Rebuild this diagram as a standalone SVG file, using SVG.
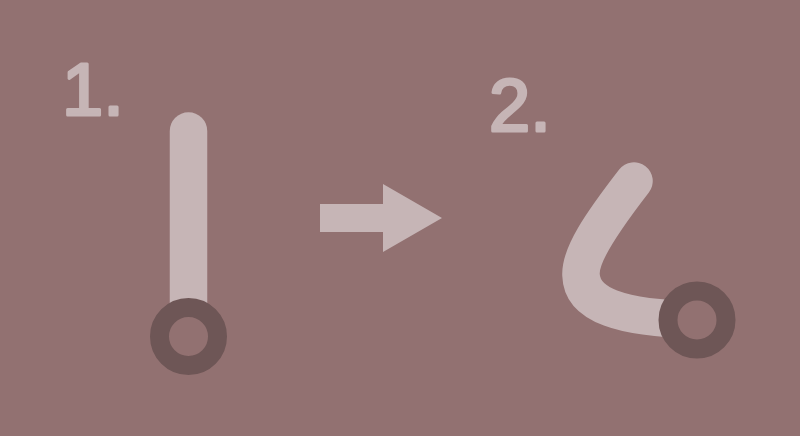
<svg xmlns="http://www.w3.org/2000/svg" width="800" height="436" viewBox="0 0 800 436">
<style>
.bg{fill:#927171}
.rod{fill:none;stroke:#c6b5b6;stroke-width:37.5;stroke-linecap:round}
.ring{fill:#927171;stroke:#6e5656;stroke-width:19}
.num{font-family:"Liberation Sans",Arial,sans-serif;font-size:74px;fill:#c6b5b6;stroke:#c6b5b6;stroke-width:3;stroke-linejoin:round}
.arrow{fill:#c6b5b6}
</style>
<rect class="bg" x="0" y="0" width="800" height="436"/>
<g id="step1">
<text class="num" x="62" y="115">1.</text>
<line class="rod" x1="188.5" y1="131" x2="188.5" y2="336"/>
<circle class="ring" cx="188.5" cy="336.5" r="29"/>
</g>
<g id="connectors">
<polygon class="arrow" points="320,204 383,204 383,184 442,218 383,252 383,232 320,232"/>
</g>
<g id="step2">
<text class="num" x="489" y="131">2.</text>
<path class="rod" d="M 634 181 C 600 225 580 255 581 275 C 582 305 620 318 697 320"/>
<circle class="ring" cx="697" cy="320" r="29"/>
</g>
</svg>
